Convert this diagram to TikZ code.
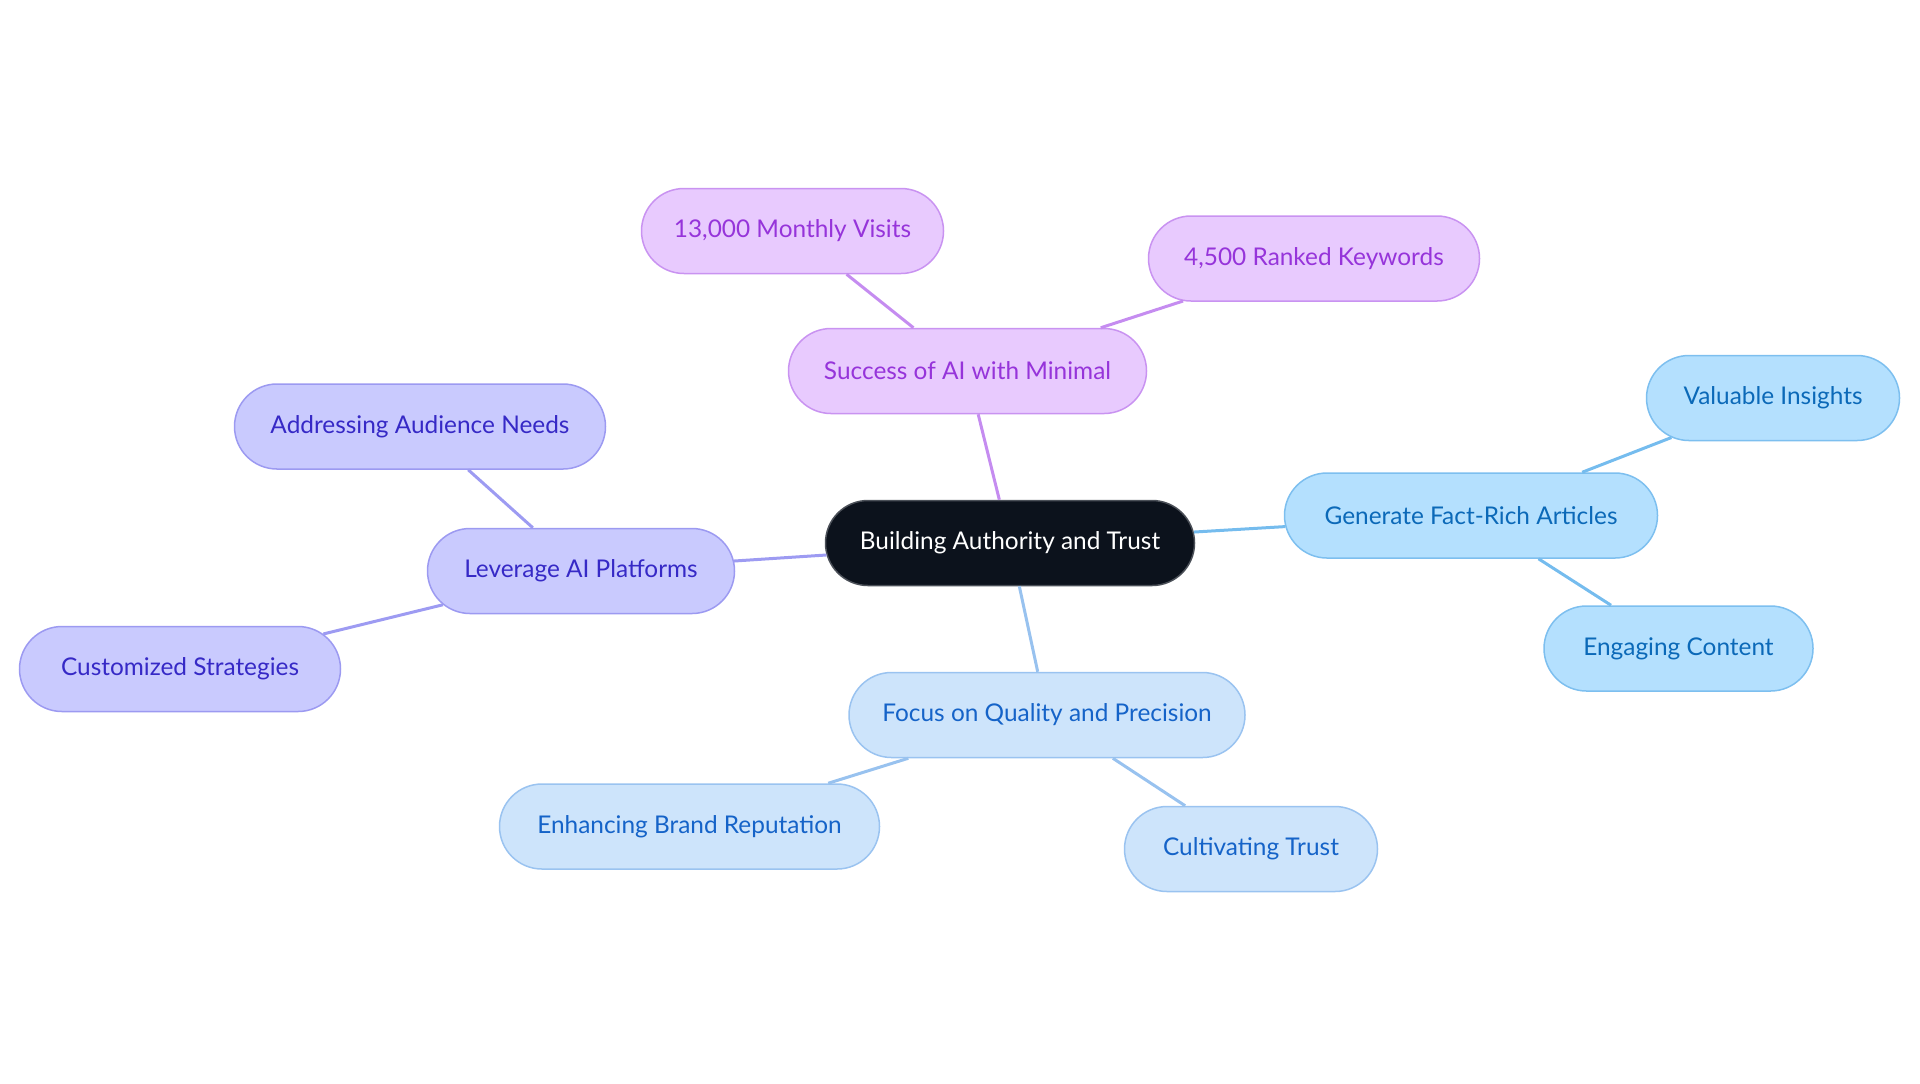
\documentclass[tikz,border=0pt]{standalone}
\usepackage{fontspec}
\setmainfont{Lato}
\usetikzlibrary{shapes.misc}
\definecolor{purFill}{HTML}{E8CAFE}
\definecolor{purLine}{HTML}{C993F1}
\definecolor{purText}{HTML}{9634DA}
\definecolor{purEdge}{HTML}{C58CF0}
\definecolor{bluFill}{HTML}{B4E0FE}
\definecolor{bluLine}{HTML}{7DBFEF}
\definecolor{bluText}{HTML}{0B69B8}
\definecolor{bluEdge}{HTML}{75BCEE}
\definecolor{lbFill}{HTML}{CDE4FB}
\definecolor{lbLine}{HTML}{9AC3F0}
\definecolor{lbText}{HTML}{1563C8}
\definecolor{lbEdge}{HTML}{98C2EF}
\definecolor{vioFill}{HTML}{C9CAFE}
\definecolor{vioLine}{HTML}{9C9AF1}
\definecolor{vioText}{HTML}{3629C6}
\definecolor{vioEdge}{HTML}{9D9BF2}
\definecolor{rootFill}{HTML}{0C121C}
\definecolor{rootLine}{HTML}{4B5058}
\tikzset{
  pill/.style={rounded rectangle, minimum height=42.5pt, inner xsep=4pt, line width=0.75pt, font=\fontsize{12.2}{14}\selectfont},
  rootnode/.style={pill, fill=rootFill, draw=rootLine, text=white},
  purnode/.style={pill, fill=purFill, draw=purLine, text=purText},
  blunode/.style={pill, fill=bluFill, draw=bluLine, text=bluText},
  lbnode/.style={pill, fill=lbFill, draw=lbLine, text=lbText},
  vionode/.style={pill, fill=vioFill, draw=vioLine, text=vioText},
  edge/.style={line width=1.5pt}
}
\begin{document}
\begin{tikzpicture}[x=0.5pt, y=-0.5pt]
\useasboundingbox (0,0) rectangle (1920,1083);
\node[rootnode, minimum width=192.5pt] (root) at (1010,543) {Building Authority and Trust};
\node[purnode, minimum width=187pt] (succ) at (967.5,371) {Success of AI with Minimal};
\node[purnode, minimum width=159pt] (visits) at (792.5,231) {13,000 Monthly Visits};
\node[purnode, minimum width=173.5pt] (keys) at (1314,258.5) {4,500 Ranked Keywords};
\node[blunode, minimum width=194.5pt] (gen) at (1471,515.5) {Generate Fact-Rich Articles};
\node[blunode, minimum width=134.5pt] (val) at (1773,398) {Valuable Insights};
\node[blunode, minimum width=142.5pt] (eng) at (1678.5,648.5) {Engaging Content};
\node[vionode, minimum width=161.5pt] (lev) at (581,571) {Leverage AI Platforms};
\node[vionode, minimum width=193.5pt] (aud) at (420,426.5) {Addressing Audience Needs};
\node[vionode, minimum width=168.5pt] (cus) at (180,669) {Customized Strategies};
\node[lbnode, minimum width=206pt] (foc) at (1047,715) {Focus on Quality and Precision};
\node[lbnode, minimum width=198pt] (enh) at (689.5,826.5) {Enhancing Brand Reputation};
\node[lbnode, minimum width=134.5pt] (cul) at (1251,849) {Cultivating Trust};
\draw[edge, purEdge] (root) -- (succ);
\draw[edge, purEdge] (succ) -- (visits);
\draw[edge, purEdge] (succ) -- (keys);
\draw[edge, bluEdge] (root) -- (gen);
\draw[edge, bluEdge] (gen) -- (val);
\draw[edge, bluEdge] (gen) -- (eng);
\draw[edge, vioEdge] (root) -- (lev);
\draw[edge, vioEdge] (lev) -- (aud);
\draw[edge, vioEdge] (lev) -- (cus);
\draw[edge, lbEdge] (root) -- (foc);
\draw[edge, lbEdge] (foc) -- (enh);
\draw[edge, lbEdge] (foc) -- (cul);
\end{tikzpicture}
\end{document}
